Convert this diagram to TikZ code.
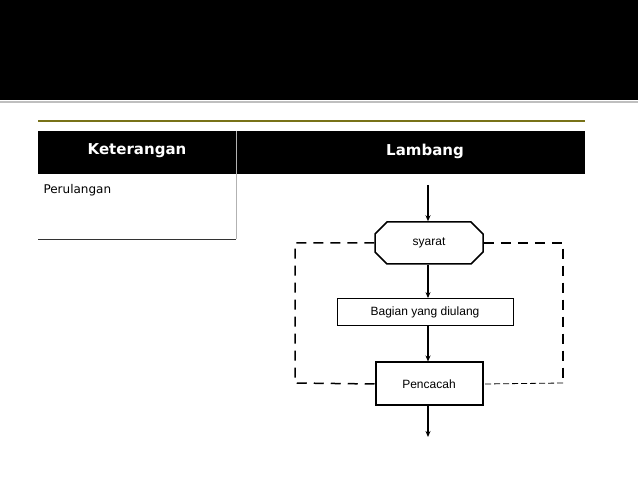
\documentclass[tikz,border=0pt]{standalone}
\usepackage{fontspec}
\setmainfont{Liberation Sans}
\newfontfamily\hdr{DejaVu Sans}
\usetikzlibrary{arrows.meta,shapes.misc}
\begin{document}
\begin{tikzpicture}[x=1pt,y=-1pt,
  flow/.style={draw,line width=1.3pt,-{Stealth[length=6pt,width=5pt]}},
  loop/.style={line width=1.5pt,dash pattern=on 10pt off 7pt},
  thinloop/.style={line width=0.8pt,dash pattern=on 6pt off 3pt}]
\useasboundingbox (0,0) rectangle (638,478);
\fill[black] (0,0) rectangle (638,100);
\draw[gray!50,line width=1.5pt] (0,102) -- (638,102);
\draw[olive!80!black,line width=1.8pt] (38,121) -- (585,121);
\fill[black] (38,131) rectangle (585,174);
\draw[gray!60,line width=0.8pt] (236,131) -- (236,239);
\draw[black!80,line width=0.8pt] (38,239) -- (236,239);
\node[text=white,font=\hdr\bfseries\fontsize{15}{18}\selectfont] (k) at (137,151) {Keterangan};
\node[text=white,font=\hdr\bfseries\fontsize{15}{18}\selectfont] (l) at (425,151) {Lambang};
\node[anchor=west,font=\hdr\fontsize{12}{14}\selectfont] (p) at (40,190) {Perulangan};
\coordinate (top) at (428,185);
\node[draw,line width=1.5pt,chamfered rectangle,chamfered rectangle xsep=12pt,minimum width=108pt,minimum height=42pt,inner xsep=0pt,font=\fontsize{12}{14}\selectfont] (s) at (429,243) {syarat};
\node[draw,line width=0.8pt,minimum width=176pt,minimum height=27pt,inner sep=0pt,font=\fontsize{12}{14}\selectfont] (b) at (425,312) {Bagian yang diulang};
\node[draw,line width=2pt,minimum width=107pt,minimum height=43pt,inner sep=0pt,font=\fontsize{12}{14}\selectfont] (c) at (429,384) {Pencacah};
\coordinate (bot) at (428,437);
\draw[flow] (top) -- (s.north -| top);
\draw[flow] (s.south -| top) -- (b.north -| top);
\draw[flow] (b.south -| top) -- (c.north -| top);
\draw[flow] (c.south -| top) -- (bot);
\coordinate (lt) at (295,243);
\coordinate (lb) at (295,383);
\coordinate (rt) at (563,243);
\coordinate (rb) at (563,383);
\draw[loop] (s.west) -- (lt) -- (lb) -- (c.west);
\draw[loop] (s.east) -- (rt) -- (rb);
\draw[thinloop] (rb) -- (c.east);
\end{tikzpicture}
\end{document}
